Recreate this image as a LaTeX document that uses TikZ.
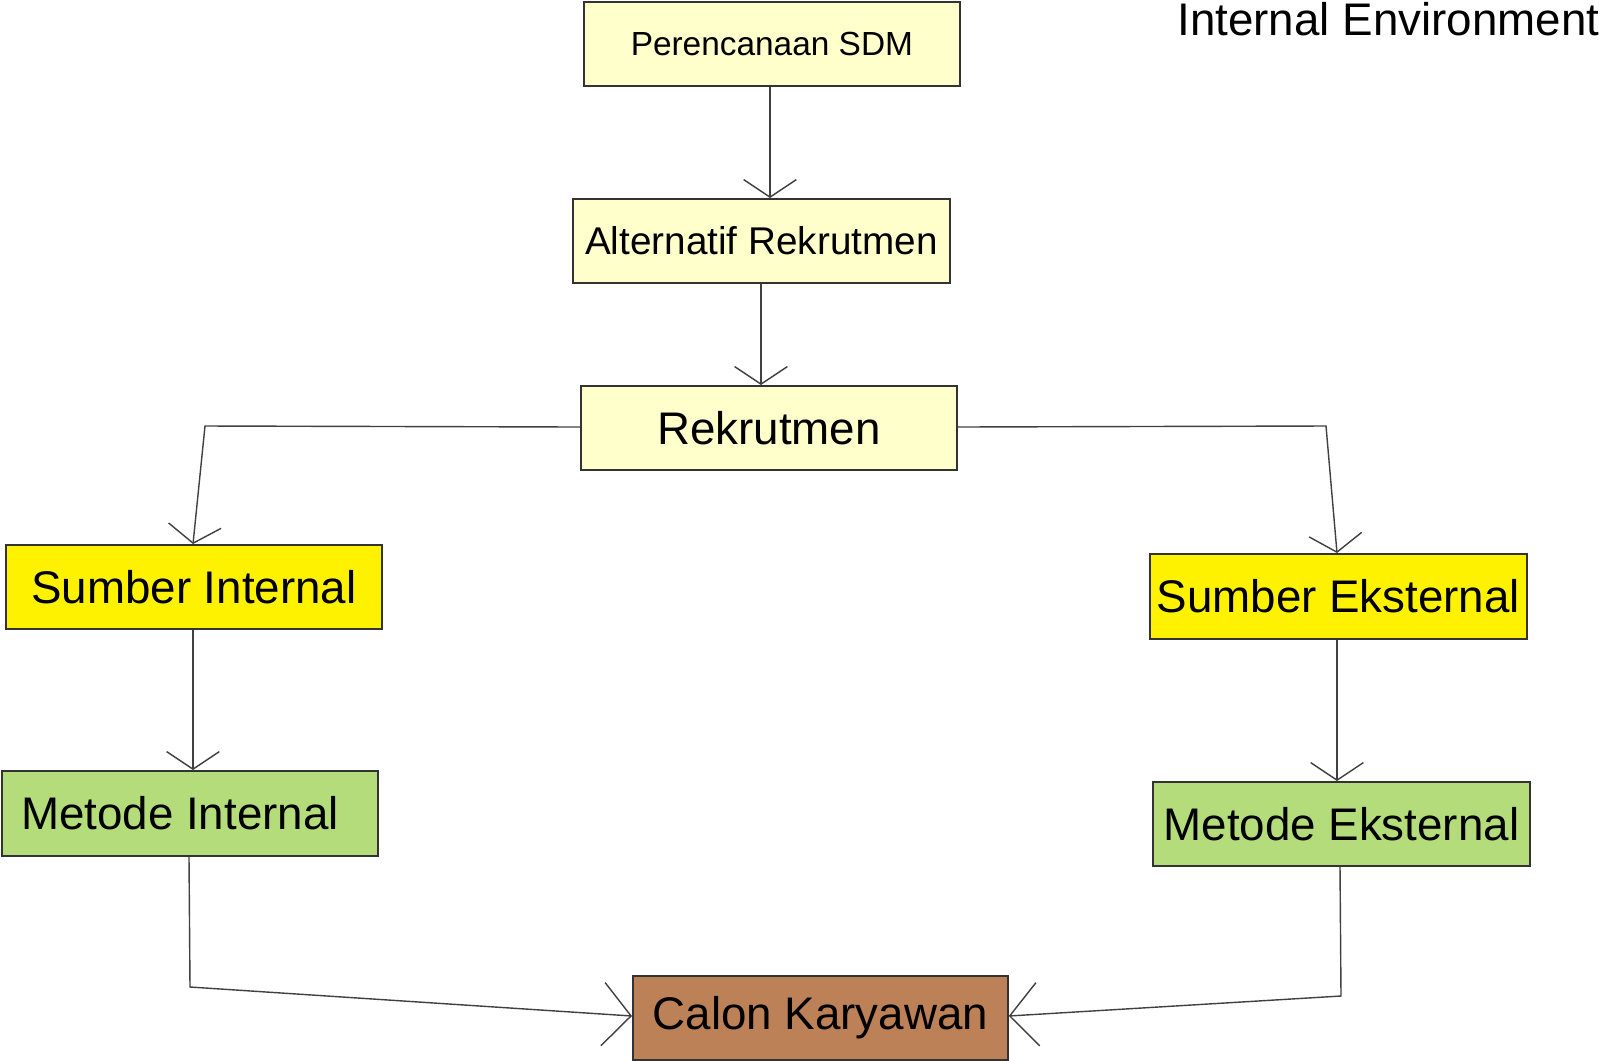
\documentclass[tikz,border=0pt]{standalone}
\usepackage{fontspec}
\setmainfont{Liberation Sans}
\usetikzlibrary{arrows.meta}
\definecolor{lyel}{HTML}{FFFFCC}
\definecolor{yel}{HTML}{FFF200}
\definecolor{grn}{HTML}{B5DC7A}
\definecolor{brn}{HTML}{BC8156}
\begin{document}
\begin{tikzpicture}[x=0.01cm,y=-0.01cm,
  box/.style={draw=black!80,line width=0.5pt,anchor=north west,inner sep=0pt},
  con/.style={draw=black!75,line width=0.4pt,-{Straight Barb[length=5pt,width=15pt,line width=0.4pt]}},
  con2/.style={draw=black!75,line width=0.4pt,-{Straight Barb[length=8pt,width=18pt,line width=0.4pt]}}]
\useasboundingbox (0,0) rectangle (1600,1060);
\newcommand{\bx}[6]{\node[box,fill=#6,minimum width=#4*0.01cm,minimum height=#5*0.01cm] (#1) at (#2,#3) {};}
\bx{p}{583}{1}{376}{84}{lyel}
\bx{a}{572}{198}{377}{84}{lyel}
\bx{r}{580}{385}{376}{84}{lyel}
\bx{si}{5}{544}{376}{84}{yel}
\bx{se}{1149}{553}{377}{85}{yel}
\bx{mi}{1}{770}{376}{85}{grn}
\bx{me}{1152}{781}{377}{84}{grn}
\bx{c}{632}{975}{375}{84}{brn}
\node[font=\fontsize{9.5}{11}\selectfont] at (p.center) {Perencanaan SDM};
\node[font=\fontsize{11}{13}\selectfont] at (a.center) {Alternatif Rekrutmen};
\node[font=\fontsize{13}{15}\selectfont] at (r.center) {Rekrutmen};
\node[font=\fontsize{13}{15}\selectfont] at (si.center) {Sumber Internal};
\node[font=\fontsize{13}{15}\selectfont] at (se.center) {Sumber Eksternal};
\node[font=\fontsize{13}{15}\selectfont] at ([xshift=-0.1cm]mi.center) {Metode Internal};
\node[font=\fontsize{13}{15}\selectfont] at (me.center) {Metode Eksternal};
\node[font=\fontsize{13}{15}\selectfont] at (c.center) {Calon Karyawan};
\node[font=\fontsize{13}{15}\selectfont,anchor=north east,inner sep=0pt] (ie) at (1600,2) {Internal Environment};
\draw[con] (p.south -| 770,0) -- (a.north -| 770,0);
\draw[con] (a.south -| 761,0) -- (r.north -| 761,0);
\draw[con] (r.west |- 0,427) -- (205,426) -- (si.north -| 193,0);
\draw[con] (r.east |- 0,427) -- (1326,426) -- (se.north -| 1337,0);
\draw[con] (si.south -| 193,0) -- (mi.north -| 193,0);
\draw[con] (se.south -| 1337,0) -- (me.north -| 1337,0);
\draw[con2] (mi.south -| 189,0) -- (190,987) -- (c.west |- 0,1016);
\draw[con2] (me.south -| 1340,0) -- (1341,996) -- (c.east |- 0,1016);
\end{tikzpicture}
\end{document}
